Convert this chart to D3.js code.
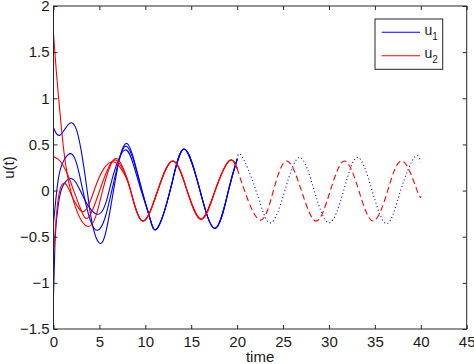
<!DOCTYPE html>
<html>
<head>
<meta charset="utf-8">
<script src="https://cdn.jsdelivr.net/npm/d3@7"></script>
<style>
  html, body { margin: 0; padding: 0; background: #fff; }
  svg { display: block; font-family: "Liberation Sans", Arial, Helvetica, sans-serif; }
</style>
</head>
<body>
<div id="chart"></div>
<script>
const xTicks = [0, 5, 10, 15, 20, 25, 30, 35, 40, 45];
const yTicks = [-1.5, -1, -0.5, 0, 0.5, 1, 1.5, 2];
const yTickLabels = ["\u22121.5", "\u22121", "\u22120.5", "0", "0.5", "1", "1.5", "2"];
const legendNames = ["u", "u"];
const legendSubs = ["1", "2"];

// u1 (blue), three starting values, [t, u]
const u1HeadA = [[0, 0.68], [0.3, 0.62], [0.7, 0.6], [1.2, 0.66], [1.9, 0.735], [2.5, 0.66], [3.0, 0.44],
  [3.6, 0.05], [4.2, -0.35], [5.0, -0.57], [5.7, -0.45], [6.4, -0.08], [7.2, 0.35], [8.0, 0.51],
  [8.8, 0.32], [9.7, -0.02], [10.5, -0.3]];
const u1HeadB = [[0, -0.35], [0.15, -0.2], [0.5, 0.11], [1.0, 0.3], [1.8, 0.4], [2.5, 0.3], [3.2, 0.0],
  [4.0, -0.32], [4.8, -0.43], [5.6, -0.3], [6.4, 0.02], [7.2, 0.35], [7.95, 0.48], [8.8, 0.3],
  [9.7, -0.03], [10.5, -0.3]];
const u1HeadC = [[0, -1.15], [0.15, -0.6], [0.35, -0.3], [0.7, -0.05], [1.2, 0.08], [1.9, 0.13],
  [2.6, 0.06], [3.4, -0.1], [4.2, -0.22], [5.05, -0.25], [5.8, -0.1], [6.6, 0.2], [7.8, 0.44],
  [8.8, 0.25], [9.7, -0.05], [10.5, -0.3]];
const u1Common = [[11.3, -0.41], [12.75, 0.02], [14.2, 0.45], [15.9, 0.02], [17.6, -0.41], [19.05, 0.0], [20, 0.34]];
const u1Late = [[20, 0.34], [20.5, 0.375], [22.05, 0.0], [23.6, -0.35], [25.2, 0.0], [26.8, 0.36], [28.4, 0.0],
  [30.0, -0.35], [31.6, 0.0], [33.1, 0.36], [34.7, 0.0], [36.3, -0.36], [37.8, 0.0], [39.3, 0.36], [40, 0.31]];

// u2 (red)
const u2HeadA = [[0, 1.7], [0.3, 1.3], [0.7, 0.85], [1.1, 0.45], [1.6, 0.12], [2.2, -0.12], [2.9, -0.3],
  [3.8, -0.39], [4.6, -0.28], [5.3, -0.02], [6.0, 0.22], [6.8, 0.35], [7.6, 0.24], [8.4, 0.0]];
const u2HeadB = [[0, 0.37], [0.5, 0.34], [1.0, 0.28], [1.6, 0.16], [2.2, 0.0], [2.8, -0.16], [3.5, -0.3],
  [4.3, -0.2], [5.2, 0.05], [6.0, 0.25], [6.8, 0.33], [7.7, 0.2], [8.4, 0.0]];
const u2HeadC = [[0, -0.7], [0.25, -0.35], [0.5, -0.1], [0.8, 0.04], [1.1, 0.08], [1.5, 0.05], [2.1, -0.08],
  [2.6, -0.17], [3.2, -0.23], [3.9, -0.14], [4.6, 0.05], [5.5, 0.24], [6.6, 0.31], [7.6, 0.2], [8.4, 0.0]];
const u2Common = [[9.7, -0.33], [11.35, 0.0], [13.0, 0.32], [14.55, 0.0], [16.1, -0.31], [17.6, 0.0], [19.1, 0.32], [20, 0.24]];
const u2Late = [[20, 0.24], [20.8, 0.0], [22.5, -0.32], [23.95, 0.0], [25.4, 0.32], [27.0, 0.0], [28.6, -0.33],
  [30.15, 0.0], [31.7, 0.32], [33.25, 0.0], [34.8, -0.33], [36.4, 0.0], [38.0, 0.32], [39.6, 0.0], [40, -0.06]];

const blue = "#0000ff", red = "#ff0000";

const series = [
  { pts: u1HeadA.concat(u1Common), color: blue, dash: null },
  { pts: u1HeadB.concat(u1Common), color: blue, dash: null },
  { pts: u1HeadC.concat(u1Common), color: blue, dash: null },
  { pts: u1Late, color: blue, dash: "1,2.6" },
  { pts: u2HeadA.concat(u2Common), color: red, dash: null },
  { pts: u2HeadB.concat(u2Common), color: red, dash: null },
  { pts: u2HeadC.concat(u2Common), color: red, dash: null },
  { pts: u2Late, color: red, dash: "6,3.5" }
];

const W = 474, H = 364;
const margin = { top: 6, right: 7.3, bottom: 35, left: 53.5 };
const width = W - margin.left - margin.right,
  height = H - margin.top - margin.bottom;
const axisColor = "#262626";

const svg = d3.select("#chart").append("svg")
  .attr("width", W)
  .attr("height", H);

const g = svg.append("g")
  .attr("transform", `translate(${margin.left},${margin.top})`);

const x = d3.scaleLinear().domain([0, 45]).range([0, width]);
const y = d3.scaleLinear().domain([-1.5, 2]).range([height, 0]);

// clip the curves to the axes box
g.append("clipPath").attr("id", "clip")
  .append("rect").attr("width", width).attr("height", height);

const line = d3.line()
  .curve(d3.curveNatural)
  .x(d => x(d[0]))
  .y(d => y(d[1]));

const plot = g.append("g").attr("clip-path", "url(#clip)");
series.forEach(s => {
  plot.append("path")
    .datum(s.pts)
    .attr("fill", "none")
    .attr("stroke", s.color)
    .attr("stroke-width", 1.1)
    .attr("stroke-dasharray", s.dash)
    .attr("d", line);
});

// axes, MATLAB style: ticks inside, box all round
function styleAxis(sel) {
  sel.select(".domain").remove();
  sel.selectAll("line").attr("stroke", axisColor);
  sel.selectAll("text")
    .attr("fill", "#1a1a1a")
    .style("font-size", "15px")
    .style("font-family", "\"Liberation Sans\", Arial, sans-serif");
}

g.append("g")
  .attr("transform", `translate(0,${height})`)
  .call(d3.axisBottom(x).tickValues(xTicks).tickSizeInner(-4).tickSizeOuter(0).tickPadding(7).tickFormat(d3.format("d")))
  .call(styleAxis);
g.append("g")
  .call(d3.axisTop(x).tickValues(xTicks).tickSizeInner(-4).tickSizeOuter(0).tickFormat(""))
  .call(styleAxis);
g.append("g")
  .call(d3.axisLeft(y).tickValues(yTicks).tickSizeInner(-4).tickSizeOuter(0).tickPadding(4)
    .tickFormat((d, i) => yTickLabels[i]))
  .call(styleAxis);
g.append("g")
  .attr("transform", `translate(${width},0)`)
  .call(d3.axisRight(y).tickValues(yTicks).tickSizeInner(-4).tickSizeOuter(0).tickFormat(""))
  .call(styleAxis);

g.append("rect")
  .attr("width", width)
  .attr("height", height)
  .attr("fill", "none")
  .attr("stroke", axisColor)
  .attr("stroke-width", 1);

// axis titles
g.append("text")
  .attr("x", width / 2)
  .attr("y", height + 32.5)
  .attr("text-anchor", "middle")
  .attr("fill", "#1a1a1a")
  .style("font-size", "15px")
  .text("time");

g.append("text")
  .attr("transform", `translate(${14 - margin.left},${height / 2}) rotate(-90)`)
  .attr("text-anchor", "middle")
  .attr("fill", "#1a1a1a")
  .style("font-size", "15px")
  .text("u(t)");

// legend
const legend = g.append("g")
  .attr("transform", `translate(${375 - margin.left},${19 - margin.top})`);

legend.append("rect")
  .attr("width", 67.7)
  .attr("height", 50.3)
  .attr("fill", "#fff")
  .attr("stroke", axisColor);

[blue, red].forEach((c, i) => {
  const row = legend.append("g").attr("transform", `translate(0,${13.3 + i * 23.4})`);
  row.append("line")
    .attr("x1", 6.7).attr("x2", 45)
    .attr("stroke", c)
    .attr("stroke-width", 1.1);
  const t = row.append("text")
    .attr("x", 49.5)
    .attr("y", 2.7)
    .attr("fill", "#1a1a1a")
    .style("font-size", "14px")
    .text(legendNames[i]);
  t.append("tspan")
    .attr("dy", 4.5)
    .style("font-size", "10px")
    .text(legendSubs[i]);
});
</script>
</body>
</html>
